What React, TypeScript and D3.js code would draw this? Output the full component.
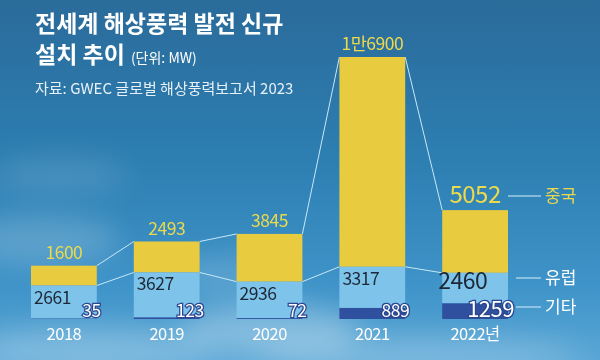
import React from "react";
import * as d3 from "d3";

const years = ["2018", "2019", "2020", "2021", "2022년"];
const china = [1600, 2493, 3845, 16900, 5052];
const europe = [2661, 3627, 2936, 3317, 2460];
const others = [35, 123, 72, 889, 1259];
const chinaLabels = ["1600", "2493", "3845", "1만6900", "5052"];
const legend = ["중국", "유럽", "기타"];

const W = 600;
const H = 360;
const FONT = "'Noto Sans CJK KR', 'Noto Sans', sans-serif";

export default function App() {
  const x = d3
    .scaleBand<string>()
    .domain(years)
    .range([31, 508])
    .paddingInner(0.36)
    .paddingOuter(0);
  const totals = years.map((_, i) => china[i] + europe[i] + others[i]);
  const y = d3
    .scaleLinear()
    .domain([0, d3.max(totals) as number])
    .range([319, 57]);
  const bw = x.bandwidth();

  const rows = years.map((yr, i) => {
    const x0 = x(yr) as number;
    const yOther = y(others[i]);
    const yEur = y(others[i] + europe[i]);
    const yTop = y(totals[i]);
    return { yr, i, x0, yOther, yEur, yTop };
  });
  const last = rows[rows.length - 1];
  const big = (i: number) => i === years.length - 1;

  return (
    <svg width={W} height={H} style={{ position: "absolute", left: 0, top: 0 }}>
      <defs>
        <linearGradient id="sky" x1="0" y1="0" x2="0" y2="1">
          <stop offset="0" stopColor="#2a6b9a" />
          <stop offset="0.45" stopColor="#2d7fb2" />
          <stop offset="0.8" stopColor="#3f94c9" />
          <stop offset="1" stopColor="#5aa7d6" />
        </linearGradient>
        <filter id="blur" x="-50%" y="-50%" width="200%" height="200%">
          <feGaussianBlur stdDeviation="14" />
        </filter>
      </defs>
      <rect width={W} height={H} fill="url(#sky)" />
      {/* clouds */}
      <g filter="url(#blur)" fill="#ffffff">
        <ellipse cx={60} cy={175} rx={70} ry={18} opacity={0.12} />
        <ellipse cx={40} cy={240} rx={80} ry={25} opacity={0.18} />
        <ellipse cx={270} cy={330} rx={90} ry={25} opacity={0.3} />
        <ellipse cx={90} cy={350} rx={120} ry={22} opacity={0.25} />
        <ellipse cx={420} cy={355} rx={160} ry={18} opacity={0.22} />
        <ellipse cx={230} cy={275} rx={60} ry={20} opacity={0.15} />
      </g>

      {/* title */}
      <g fontFamily={FONT} fill="#ffffff">
        <text x={35} y={32} fontSize={23} fontWeight={700}>
          전세계 해상풍력 발전 신규
        </text>
        <text x={35} y={63} fontSize={23} fontWeight={700}>
          설치 추이
          <tspan fontSize={14} fontWeight={400} dx={6}>
            (단위: MW)
          </tspan>
        </text>
        <text x={35} y={94} fontSize={15} fill="#e6f0f7">
          자료: GWEC 글로벌 해상풍력보고서 2023
        </text>
      </g>

      {/* connector lines */}
      <g stroke="#c8e8f7" strokeWidth={1} fill="none">
        {rows.slice(0, -1).map((r, k) => {
          const n = rows[k + 1];
          return (
            <g key={r.yr}>
              <line x1={r.x0 + bw} y1={r.yTop} x2={n.x0} y2={n.yTop} />
              <line x1={r.x0 + bw} y1={r.yEur} x2={n.x0} y2={n.yEur} />
            </g>
          );
        })}
      </g>

      {/* bars */}
      {rows.map((r) => (
        <g key={r.yr}>
          <rect x={r.x0} y={r.yTop} width={bw} height={r.yEur - r.yTop} fill="#e8cb3f" />
          <rect x={r.x0} y={r.yEur} width={bw} height={r.yOther - r.yEur} fill="#7ec3ea" />
          <rect x={r.x0} y={r.yOther} width={bw} height={y(0) - r.yOther} fill="#2f4f9f" />
        </g>
      ))}

      {/* labels */}
      <g fontFamily={FONT}>
        {rows.map((r) => (
          <g key={r.yr}>
            <text
              x={r.x0 + bw / 2}
              y={r.yTop - 7}
              textAnchor="middle"
              fontSize={big(r.i) ? 24 : 17.5}
              fill="#ecd94c"
              letterSpacing={-0.5}
            >
              {chinaLabels[r.i]}
            </text>
            <text
              x={big(r.i) ? r.x0 - 4 : r.x0 + 3}
              y={r.yEur + (big(r.i) ? 16 : 18)}
              fontSize={big(r.i) ? 23 : 17.5}
              fill="#1c2836"
              letterSpacing={-0.5}
            >
              {europe[r.i]}
            </text>
            <text
              x={r.x0 + bw + (big(r.i) ? 6 : 4)}
              y={y(0) - 2}
              textAnchor="end"
              fontSize={big(r.i) ? 22 : 17.5}
              fill="#ffffff"
              stroke="#2b4690"
              strokeWidth={2.5}
              paintOrder="stroke"
              letterSpacing={-0.5}
            >
              {others[r.i]}
            </text>
            <text
              x={r.x0 + bw / 2}
              y={340}
              textAnchor="middle"
              fontSize={16.5}
              fill="#ffffff"
              letterSpacing={-0.5}
            >
              {r.yr}
            </text>
          </g>
        ))}

        {/* legend */}
        {[
          { yy: 196, c: "#ecd94c" },
          { yy: 278, c: "#ffffff" },
          { yy: 307, c: "#ffffff" },
        ].map((l, k) => (
          <g key={legend[k]}>
            <line
              x1={last.x0 + bw + (k === 0 ? 0 : 8)}
              x2={541}
              y1={l.yy}
              y2={l.yy}
              stroke="#d8eef9"
              strokeWidth={1}
            />
            <text x={545} y={l.yy + 6} fontSize={17} fill={l.c}>
              {legend[k]}
            </text>
          </g>
        ))}
      </g>
    </svg>
  );
}
